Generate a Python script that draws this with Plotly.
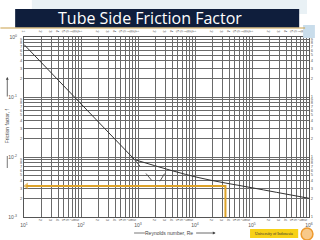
import plotly.graph_objects as go

# ---- data ----
re_laminar = [10, 871]
f_laminar = [0.75, 0.00904]

re_turbulent = [871, 10800, 104000, 1000000]
f_turbulent = [0.00904, 0.0046, 0.00305, 0.00205]

re_transition = [871, 1816, 2393, 3228]
f_transition = [0.00904, 0.00387, 0.00387, 0.00615]

re_reading = [34200, 34200, 11]
f_reading = [0.001, 0.0033, 0.0033]

x_decades = [1, 2, 3, 4, 5]
y_decades = [-3, -2, -1]
digits = [1, 2, 3, 4, 5, 6, 7, 8, 9]

x_tickvals = [d * 10 ** k for k in x_decades for d in digits] + [10 ** 6]
x_digit_text = ["" if d == 1 else str(d) for k in x_decades for d in digits] + [""]
x_top_text = [str(d) for k in x_decades for d in digits] + ["1"]
x_major_vals = [10 ** k for k in x_decades] + [10 ** 6]
x_major_text = ["10<sup>%d</sup>" % k for k in x_decades] + ["10<sup>6</sup>"]

y_tickvals = [d * 10.0 ** k for k in y_decades for d in digits] + [1.0]
y_digit_text = ["" if d == 1 else str(d) for k in y_decades for d in digits] + [""]
y_right_text = [str(d) for k in y_decades for d in digits] + ["1"]
y_major_vals = [10.0 ** k for k in y_decades] + [1.0]
y_major_text = ["10<sup>%d</sup>" % k for k in y_decades] + ["10<sup>0</sup>"]

GRID = "#6a6a6a"
TXT = "#555555"
GOLD = "#DDA32A"

fig = go.Figure()

fig.add_trace(go.Scatter(x=re_laminar, y=f_laminar, mode="lines",
                         line=dict(color="#333333", width=1), hoverinfo="skip"))
fig.add_trace(go.Scatter(x=re_turbulent, y=f_turbulent, mode="lines", line_shape="spline",
                         line=dict(color="#333333", width=1), hoverinfo="skip"))
fig.add_trace(go.Scatter(x=re_transition, y=f_transition, mode="lines",
                         line=dict(color="#555555", width=1, dash="dash"), hoverinfo="skip"))
fig.add_trace(go.Scatter(x=re_reading, y=f_reading, mode="lines+markers",
                         line=dict(color=GOLD, width=2),
                         marker=dict(symbol=["line-ns", "line-ns", "triangle-left"],
                                     size=[0, 0, 6], color=GOLD, line=dict(width=0)),
                         hoverinfo="skip"))
# invisible traces to activate overlay axes
fig.add_trace(go.Scatter(x=[100], y=[0.01], xaxis="x2", yaxis="y2", mode="markers",
                         marker=dict(opacity=0), hoverinfo="skip"))
fig.add_trace(go.Scatter(x=[100], y=[0.01], xaxis="x3", yaxis="y3", mode="markers",
                         marker=dict(opacity=0), hoverinfo="skip"))

common_x = dict(type="log", range=[1, 6], zeroline=False, ticks="")
common_y = dict(type="log", range=[-3, 0], zeroline=False, ticks="")

fig.update_layout(
    width=320, height=240,
    margin=dict(l=24, r=6, t=37, b=23),
    paper_bgcolor="white", plot_bgcolor="white",
    showlegend=False,
    font=dict(family="Liberation Sans", color=TXT),
    xaxis=dict(**common_x, tickmode="array", tickvals=x_tickvals, ticktext=x_digit_text,
               tickfont=dict(size=4, color=TXT), showgrid=True, gridcolor=GRID, gridwidth=1,
               showline=True, linecolor="#555", linewidth=1, ticklabelstandoff=-2),
    xaxis2=dict(**common_x, overlaying="x", side="top", anchor="y", tickmode="array",
                tickvals=x_tickvals, ticktext=x_top_text, tickfont=dict(size=4, color=TXT),
                showgrid=False, showline=True, linecolor="#555", linewidth=1),
    xaxis3=dict(**common_x, overlaying="x", side="bottom", anchor="y", tickmode="array",
                tickvals=x_major_vals, ticktext=x_major_text, tickfont=dict(size=5, color=TXT),
                showgrid=False, ticklabelstandoff=4),
    yaxis=dict(**common_y, tickmode="array", tickvals=y_tickvals, ticktext=y_digit_text,
               tickfont=dict(size=4, color=TXT), showgrid=True, gridcolor=GRID, gridwidth=1,
               showline=True, linecolor="#555", linewidth=1, ticklabelstandoff=0),
    yaxis2=dict(**common_y, overlaying="y", side="right", anchor="x", tickmode="array",
                tickvals=y_tickvals, ticktext=y_right_text, tickfont=dict(size=4, color=TXT),
                showgrid=False, showline=True, linecolor="#555", linewidth=1),
    yaxis3=dict(**common_y, overlaying="y", side="left", anchor="x", tickmode="array",
                tickvals=y_major_vals, ticktext=y_major_text, tickfont=dict(size=5, color=TXT),
                showgrid=False, ticklabelstandoff=6),
)

def px(X):
    return (X - 24) / 290.0

def py(Y):
    return (217 - Y) / 180.0

shapes = [
    # light band at top
    dict(type="rect", xref="paper", yref="paper", x0=px(32), x1=px(312), y0=py(14), y1=py(0),
         fillcolor="#E9F1F5", line=dict(width=0), layer="below"),
    dict(type="rect", xref="paper", yref="paper", x0=px(308), x1=px(320), y0=py(38), y1=py(25),
         fillcolor="#C9DDEB", line=dict(width=0), layer="above"),
    # title banner
    dict(type="rect", xref="paper", yref="paper", x0=px(15), x1=px(304), y0=py(27.5), y1=py(9),
         fillcolor="#0F1E3C", line=dict(width=0)),
    dict(type="line", xref="paper", yref="paper", x0=px(0), x1=px(310), y0=py(28), y1=py(28),
         line=dict(color="#C9A04A", width=1.2)),
    # x-title left dash
    dict(type="line", xref="paper", yref="paper", x0=px(136), x1=px(147), y0=py(233), y1=py(233),
         line=dict(color="#555", width=0.8)),
    # y-title lower dash
    dict(type="line", xref="paper", yref="paper", x0=px(7), x1=px(7), y0=py(156), y1=py(168),
         line=dict(color="#555", width=0.8)),
    # logo
    dict(type="rect", xref="paper", yref="paper", x0=px(254), x1=px(303), y0=py(238), y1=py(229),
         fillcolor="#F7D117", line=dict(width=0)),
    dict(type="circle", xref="paper", yref="paper", x0=px(306), x1=px(318), y0=py(240), y1=py(228),
         fillcolor="#F8C98A", line=dict(color="#EE9A2E", width=1.5)),
]
fig.update_layout(shapes=shapes)

annotations = [
    dict(text="Tube Side Friction Factor", xref="paper", yref="paper", x=px(152), y=py(18.5),
         showarrow=False, font=dict(family="Open Sans", size=16, color="white"),
         xanchor="center", yanchor="middle"),
    dict(text="Reynolds number, Re", xref="paper", yref="paper", x=px(172), y=py(233),
         showarrow=False, font=dict(size=5, color="#444"), xanchor="center", yanchor="middle"),
    dict(text="", xref="paper", yref="paper", x=px(219), y=py(233), ax=-21, ay=0,
         showarrow=True, arrowhead=2, arrowsize=0.7, arrowwidth=0.8, arrowcolor="#444"),
    dict(text="Friction factor, f", xref="paper", yref="paper", x=px(7), y=py(126),
         showarrow=False, textangle=-90, font=dict(size=5, color="#444"),
         xanchor="center", yanchor="middle"),
    dict(text="", xref="paper", yref="paper", x=px(7), y=py(77), ax=0, ay=21,
         showarrow=True, arrowhead=2, arrowsize=0.7, arrowwidth=0.8, arrowcolor="#444"),
    dict(text="University of Indonesia", xref="paper", yref="paper", x=px(278.5), y=py(233.5),
         showarrow=False, font=dict(family="Liberation Serif", size=4, color="#333"),
         xanchor="center", yanchor="middle"),
]
fig.update_layout(annotations=annotations)

fig.write_html("out.html")
